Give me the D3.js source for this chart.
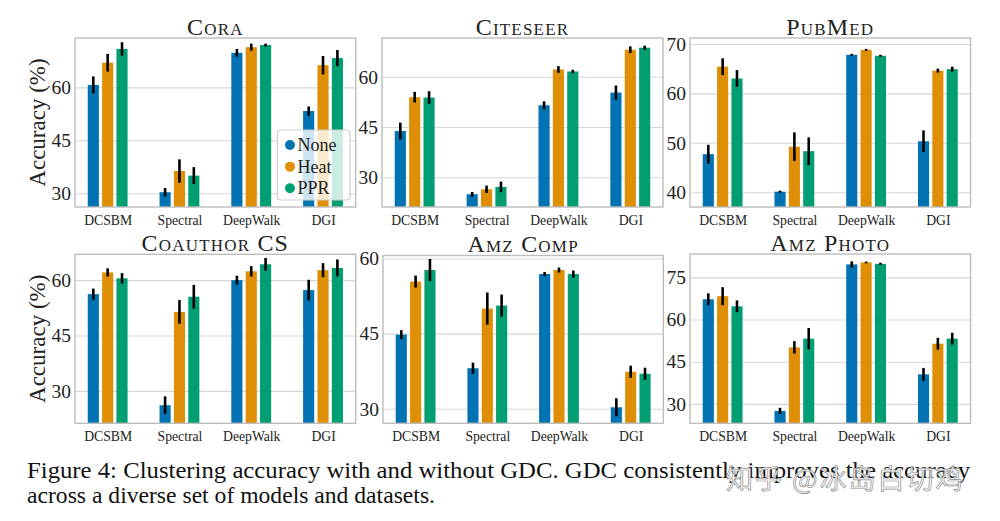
<!DOCTYPE html>
<html>
<head>
<meta charset="utf-8">
<script src="https://cdn.jsdelivr.net/npm/d3@7"></script>
<style>
  body { margin: 0; background: #fff; }
  svg { display: block; }
</style>
</head>
<body>
<script>
// series and categories
const methods = ["None", "Heat", "PPR"];
const models = ["DCSBM", "Spectral", "DeepWalk", "DGI"];
const datasets = ["Cora", "Citeseer", "PubMed", "Coauthor CS", "Amz Comp", "Amz Photo"];

// mean accuracy (%), one row per model, columns = None / Heat / PPR
const coraMean     = [[60.7, 67.0, 70.9], [30.3, 36.3, 35.0], [69.8, 71.4, 72.0], [53.3, 66.3, 68.3]];
const citeseerMean = [[43.8, 53.9, 53.8], [24.9, 26.4, 27.1], [51.5, 62.2, 61.6], [55.3, 68.1, 68.7]];
const pubmedMean   = [[47.7, 65.4, 63.0], [40.1, 49.2, 48.3], [67.8, 68.8, 67.6], [50.3, 64.6, 64.9]];
const coauthorMean = [[56.2, 62.1, 60.5], [26.1, 51.4, 55.5], [60.0, 62.4, 64.3], [57.3, 62.7, 63.3]];
const amzCompMean  = [[44.8, 55.4, 57.7], [38.1, 50.0, 50.6], [56.9, 57.7, 56.9], [30.3, 37.4, 37.0]];
const amzPhotoMean = [[67.2, 68.3, 64.7], [27.5, 50.1, 53.2], [79.6, 80.3, 79.8], [40.5, 51.4, 53.2]];

// half length of the error bars
const coraErr     = [[2.4, 2.5, 1.9], [1.2, 3.3, 2.4], [1.1, 1.0, 0.4], [1.3, 2.6, 2.3]];
const citeseerErr = [[2.5, 1.6, 1.9], [0.7, 1.1, 1.6], [1.2, 1.0, 0.5], [2.1, 1.0, 0.6]];
const pubmedErr   = [[1.9, 1.7, 1.7], [0.2, 2.9, 2.8], [0.2, 0.2, 0.2], [2.2, 0.4, 0.5]];
const coauthorErr = [[1.5, 1.1, 1.4], [2.4, 3.2, 3.2], [1.2, 1.4, 1.7], [2.8, 1.9, 2.3]];
const amzCompErr  = [[0.9, 1.2, 2.2], [1.1, 3.2, 2.2], [0.4, 0.5, 0.7], [1.8, 1.2, 1.2]];
const amzPhotoErr = [[2.1, 3.2, 2.1], [1.1, 2.2, 3.8], [1.1, 0.3, 0.4], [2.3, 2.1, 2.1]];

// y axis ticks and limits
const yTicks   = [[30, 45, 60], [30, 45, 60], [40, 50, 60, 70], [30, 45, 60], [30, 45, 60], [30, 45, 60, 75]];
const yDomains = [[26.1, 74.0], [21.1, 71.6], [37.0, 71.2], [21.2, 67.0], [27.1, 60.6], [23.1, 83.3]];

const captionLines = [
    "Figure 4: Clustering accuracy with and without GDC. GDC consistently improves the accuracy",
    "across a diverse set of models and datasets."
];
const watermark = "知乎 @冰岛白切鸡";

const means = [coraMean, citeseerMean, pubmedMean, coauthorMean, amzCompMean, amzPhotoMean];
const errs  = [coraErr, citeseerErr, pubmedErr, coauthorErr, amzCompErr, amzPhotoErr];

// layout: plot frame of each panel [left, top, right, bottom]
const frames = [
    [75, 38, 355.7, 207], [382, 38, 663, 207], [690, 38, 970.5, 207],
    [75, 254.3, 355.7, 423.3], [383, 255.5, 663.3, 423.3], [690, 254, 970.5, 423.3]
];

const colors = d3.scaleOrdinal().domain(methods).range(["#0173b2", "#de8f05", "#029e73"]);
const serif = "'Liberation Serif', 'DejaVu Serif', serif";

const svg = d3.select("body").append("svg")
    .attr("width", 1000)
    .attr("height", 521)
    .style("font-family", serif);

datasets.forEach(function(name, k) {
    const [x0, y0, x1, y1] = frames[k];

    const x = d3.scalePoint().domain(models).range([x0, x1]).padding(0.455);
    const y = d3.scaleLinear().domain(yDomains[k]).range([y1, y0]);
    const step = x.step();
    const bw = step * 0.155;   // bar width
    const off = step * 0.2;    // distance between bars of one group

    const g = svg.append("g");

    // horizontal grid
    g.append("g")
        .attr("transform", "translate(" + x0 + ",0)")
        .call(d3.axisLeft(y).tickValues(yTicks[k]).tickSize(-(x1 - x0)).tickFormat(""))
        .call(a => a.select(".domain").remove())
        .call(a => a.selectAll("line").attr("stroke", "#d6d6d6").attr("stroke-width", 1.1));

    // y tick labels
    g.append("g")
        .attr("transform", "translate(" + x0 + ",0)")
        .call(d3.axisLeft(y).tickValues(yTicks[k]).tickSize(0).tickPadding(4))
        .call(a => a.select(".domain").remove())
        .call(a => a.selectAll("text")
            .attr("font-family", serif)
            .attr("font-size", 19.5)
            .attr("fill", "#222"));

    // x tick labels
    g.append("g")
        .attr("transform", "translate(0," + y1 + ")")
        .call(d3.axisBottom(x).tickSize(0).tickPadding(7.8))
        .call(a => a.select(".domain").remove())
        .call(a => a.selectAll("text")
            .attr("font-family", serif)
            .attr("font-size", 13.7)
            .attr("fill", "#222"));

    // bars
    const cells = [];
    models.forEach((m, i) => methods.forEach((s, j) => {
        cells.push({model: m, method: s, j: j, v: means[k][i][j], e: errs[k][i][j]});
    }));

    g.append("g").selectAll("rect")
        .data(cells)
        .join("rect")
        .attr("x", d => x(d.model) + (d.j - 1) * off - bw / 2)
        .attr("y", d => y(d.v))
        .attr("width", bw)
        .attr("height", d => y1 - y(d.v))
        .attr("fill", d => colors(d.method));

    // error bars
    g.append("g").selectAll("line")
        .data(cells)
        .join("line")
        .attr("x1", d => x(d.model) + (d.j - 1) * off)
        .attr("x2", d => x(d.model) + (d.j - 1) * off)
        .attr("y1", d => y(d.v - d.e))
        .attr("y2", d => y(d.v + d.e))
        .attr("stroke", "#000")
        .attr("stroke-width", 2.6);

    // frame
    g.append("rect")
        .attr("x", x0).attr("y", y0)
        .attr("width", x1 - x0).attr("height", y1 - y0)
        .attr("fill", "none")
        .attr("stroke", "#bdbdbd")
        .attr("stroke-width", 1.4);

    // title
    g.append("text")
        .attr("x", (x0 + x1) / 2)
        .attr("y", y0 - 3.5)
        .attr("text-anchor", "middle")
        .attr("font-size", 24)
        .attr("letter-spacing", 1.2)
        .style("font-variant", "small-caps")
        .attr("fill", "#222")
        .text(name);

    // y label on the left column
    if (k % 3 === 0) {
        g.append("text")
            .attr("transform", "translate(45," + ((y0 + y1) / 2) + ") rotate(-90)")
            .attr("text-anchor", "middle")
            .attr("font-size", 23)
            .attr("fill", "#222")
            .text("Accuracy (%)");
    }

    // legend in the first panel
    if (k === 0) {
        const lg = g.append("g");
        lg.append("rect")
            .attr("x", 277.3).attr("y", 130)
            .attr("width", 72.7).attr("height", 70)
            .attr("rx", 3)
            .attr("fill", "#fff").attr("fill-opacity", 0.8)
            .attr("stroke", "#cfcfcf").attr("stroke-width", 1.2);
        const row = d3.scalePoint().domain(methods).range([145, 188.3]);
        lg.selectAll("circle")
            .data(methods)
            .join("circle")
            .attr("cx", 290)
            .attr("cy", d => row(d))
            .attr("r", 5)
            .attr("fill", d => colors(d));
        lg.selectAll("text")
            .data(methods)
            .join("text")
            .attr("x", 297.5)
            .attr("y", d => row(d) + 6)
            .attr("font-size", 18)
            .attr("fill", "#222")
            .text(d => d);
    }
});

// caption (two lines, stretched to the widths seen in the figure)
const captionWidths = [943, 408];
svg.append("g").selectAll("text")
    .data(captionLines)
    .join("text")
    .attr("x", 27)
    .attr("y", (d, i) => 478 + i * 25)
    .attr("font-size", 22.5)
    .attr("textLength", (d, i) => captionWidths[i])
    .attr("lengthAdjust", "spacingAndGlyphs")
    .attr("fill", "#111")
    .text(d => d);

// watermark over the caption
svg.append("text")
    .attr("x", 726).attr("y", 489)
    .attr("font-family", "'Noto Sans CJK SC', sans-serif")
    .attr("font-size", 27)
    .attr("letter-spacing", 2)
    .attr("fill", "#fff")
    .attr("fill-opacity", 0.85)
    .attr("stroke", "#8a8a8a")
    .attr("stroke-width", 0.7)
    .text(watermark);
</script>
</body>
</html>
